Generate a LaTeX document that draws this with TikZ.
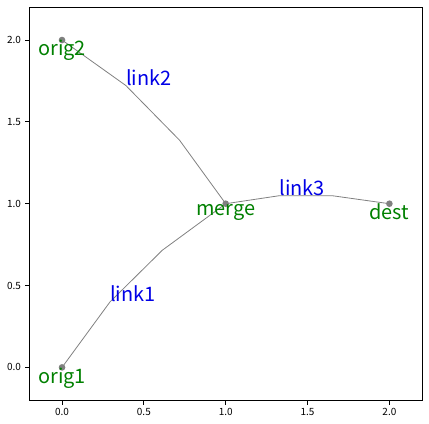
\documentclass[tikz,border=0pt]{standalone}
\usepackage{fontspec}
\setmainfont{Noto Sans CJK JP}
\usepackage{xcolor}
\usetikzlibrary{positioning, backgrounds}
\definecolor{nodegreen}{RGB}{0,128,0}
\definecolor{linkblue}{RGB}{0,0,230}
\definecolor{pointgray}{RGB}{128,128,128}
\newcommand\biglabel{\fontsize{15}{18}\selectfont}
\newcommand\ticksize{\fontsize{7.5}{9}\selectfont}

\begin{document}
\begin{tikzpicture}[
        x=4.33cm, y=4.33cm,
        % Styles
        point/.style={circle, fill=pointgray, inner sep=0pt, minimum size=5pt},
        link/.style={draw=pointgray, line width=0.6pt},
        nodelabel/.style={text=nodegreen, font=\biglabel, inner sep=0pt, anchor=north},
        linklabel/.style={text=linkblue, font=\biglabel, inner sep=0pt, anchor=base west},
        ticklabel/.style={font=\ticksize, inner sep=0pt},
    ]
    \useasboundingbox (-0.379,-0.3425) rectangle (2.242,2.2446);

    % Axes frame and ticks
    \draw[line width=0.8pt] (-0.2,-0.2) rectangle (2.2,2.2);
    \foreach \v in {0.0,0.5,1.0,1.5,2.0} {
        \draw[line width=0.6pt] (\v,-0.2) -- ++(0,-3.5pt) node[ticklabel, below=2.5pt] {\v};
        \draw[line width=0.6pt] (-0.2,\v) -- ++(-3.5pt,0) node[ticklabel, left=2.5pt] {\v};
    }

    % Points
    \node[point] (orig1) at (0,0) {};
    \node[point] (orig2) at (0,2) {};
    \node[point] (merge) at (1,1) {};
    \node[point] (dest) at (2,1) {};

    % Bends of the links
    \coordinate (link1a) at (0.293,0.400);
    \coordinate (link1b) at (0.613,0.716);
    \coordinate (link2a) at (0.390,1.722);
    \coordinate (link2b) at (0.718,1.388);
    \coordinate (link3a) at (1.328,1.049);
    \coordinate (link3b) at (1.650,1.049);

    % Links
    \begin{scope}[on background layer]
        \draw[link] (orig1.center) -- (link1a) -- (link1b) -- (merge.center);
        \draw[link] (orig2.center) -- (link2a) -- (link2b) -- (merge.center);
        \draw[link] (merge.center) -- (link3a) -- (link3b) -- (dest.center);
    \end{scope}

    % Labels
    \node[nodelabel] (orig1label) at (orig1.center) {orig1};
    \node[nodelabel] (orig2label) at (orig2.center) {orig2};
    \node[nodelabel] (mergelabel) at (merge.center) {merge};
    \node[nodelabel] (destlabel) at (dest.center) {dest};
    \node[linklabel] (link1label) at (link1a) {link1};
    \node[linklabel] (link2label) at (link2a) {link2};
    \node[linklabel] (link3label) at (link3a) {link3};

\end{tikzpicture}
\end{document}
